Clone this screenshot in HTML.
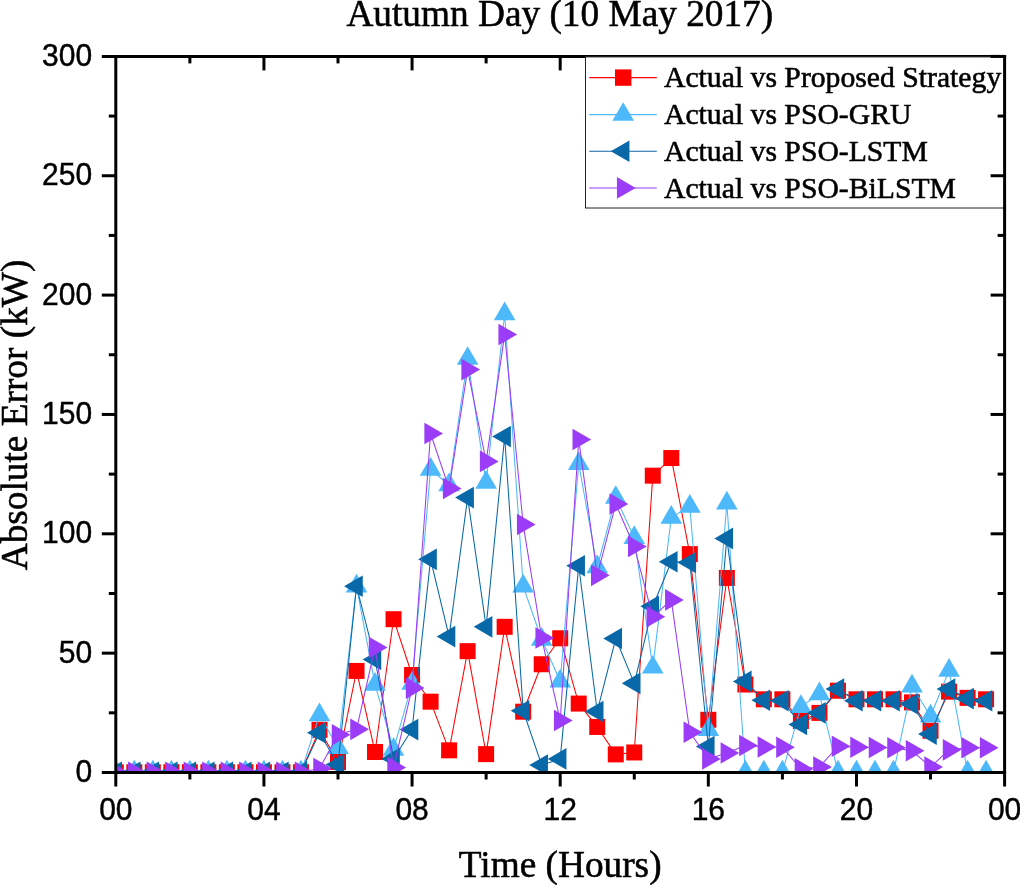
<!DOCTYPE html>
<html lang="en"><head><meta charset="utf-8"><title>Autumn Day (10 May 2017)</title>
<style>html,body{margin:0;padding:0;background:#fff;overflow:hidden;}svg{display:block}.se{font-family:"Liberation Serif","Times New Roman",serif;fill:#000;stroke:#000;stroke-width:0.55px}.sa{font-family:"Liberation Sans",Arial,sans-serif;fill:#000;stroke:#000;stroke-width:0.45px}</style></head><body>
<svg width="1020" height="885" viewBox="0 0 1020 885">
<rect width="1020" height="885" fill="#fff"/>
<defs><clipPath id="pc"><rect x="115.8" y="56.4" width="888.8" height="716.1"/></clipPath></defs>
<g clip-path="url(#pc)">
<polyline points="115.8,772.25 134.32,772.25 152.83,772.25 171.35,772.25 189.87,772.25 208.38,772.25 226.9,772.25 245.42,772.25 263.93,772.25 282.45,772.25 300.97,772.25 319.48,729.81 338,762 356.52,670.93 375.03,751.99 393.55,619.2 412.07,674.98 430.58,701.68 449.1,750.32 467.62,651.14 486.13,754.13 504.65,626.83 523.17,711.7 541.68,664.25 560.2,638.27 578.72,703.59 597.23,726.95 615.75,754.37 634.27,752.46 652.78,475.68 671.3,458.04 689.82,554.11 708.33,719.8 726.85,577.95 745.37,684.52 763.88,699.3 782.4,699.3 800.92,720.99 819.43,712.89 837.95,690.72 856.47,699.3 874.98,699.3 893.5,699.3 912.02,702.4 930.53,730.77 949.05,691.67 967.57,697.87 986.08,699.3" fill="none" stroke="#ff0000" stroke-width="1.05" stroke-linejoin="round"/>
<rect x="107.8" y="764.25" width="16" height="16" fill="#ff0000"/>
<rect x="126.32" y="764.25" width="16" height="16" fill="#ff0000"/>
<rect x="144.83" y="764.25" width="16" height="16" fill="#ff0000"/>
<rect x="163.35" y="764.25" width="16" height="16" fill="#ff0000"/>
<rect x="181.87" y="764.25" width="16" height="16" fill="#ff0000"/>
<rect x="200.38" y="764.25" width="16" height="16" fill="#ff0000"/>
<rect x="218.9" y="764.25" width="16" height="16" fill="#ff0000"/>
<rect x="237.42" y="764.25" width="16" height="16" fill="#ff0000"/>
<rect x="255.93" y="764.25" width="16" height="16" fill="#ff0000"/>
<rect x="274.45" y="764.25" width="16" height="16" fill="#ff0000"/>
<rect x="292.97" y="764.25" width="16" height="16" fill="#ff0000"/>
<rect x="311.48" y="721.81" width="16" height="16" fill="#ff0000"/>
<rect x="330" y="754" width="16" height="16" fill="#ff0000"/>
<rect x="348.52" y="662.93" width="16" height="16" fill="#ff0000"/>
<rect x="367.03" y="743.99" width="16" height="16" fill="#ff0000"/>
<rect x="385.55" y="611.2" width="16" height="16" fill="#ff0000"/>
<rect x="404.07" y="666.98" width="16" height="16" fill="#ff0000"/>
<rect x="422.58" y="693.68" width="16" height="16" fill="#ff0000"/>
<rect x="441.1" y="742.32" width="16" height="16" fill="#ff0000"/>
<rect x="459.62" y="643.14" width="16" height="16" fill="#ff0000"/>
<rect x="478.13" y="746.13" width="16" height="16" fill="#ff0000"/>
<rect x="496.65" y="618.83" width="16" height="16" fill="#ff0000"/>
<rect x="515.17" y="703.7" width="16" height="16" fill="#ff0000"/>
<rect x="533.68" y="656.25" width="16" height="16" fill="#ff0000"/>
<rect x="552.2" y="630.27" width="16" height="16" fill="#ff0000"/>
<rect x="570.72" y="695.59" width="16" height="16" fill="#ff0000"/>
<rect x="589.23" y="718.95" width="16" height="16" fill="#ff0000"/>
<rect x="607.75" y="746.37" width="16" height="16" fill="#ff0000"/>
<rect x="626.27" y="744.46" width="16" height="16" fill="#ff0000"/>
<rect x="644.78" y="467.68" width="16" height="16" fill="#ff0000"/>
<rect x="663.3" y="450.04" width="16" height="16" fill="#ff0000"/>
<rect x="681.82" y="546.11" width="16" height="16" fill="#ff0000"/>
<rect x="700.33" y="711.8" width="16" height="16" fill="#ff0000"/>
<rect x="718.85" y="569.95" width="16" height="16" fill="#ff0000"/>
<rect x="737.37" y="676.52" width="16" height="16" fill="#ff0000"/>
<rect x="755.88" y="691.3" width="16" height="16" fill="#ff0000"/>
<rect x="774.4" y="691.3" width="16" height="16" fill="#ff0000"/>
<rect x="792.92" y="712.99" width="16" height="16" fill="#ff0000"/>
<rect x="811.43" y="704.89" width="16" height="16" fill="#ff0000"/>
<rect x="829.95" y="682.72" width="16" height="16" fill="#ff0000"/>
<rect x="848.47" y="691.3" width="16" height="16" fill="#ff0000"/>
<rect x="866.98" y="691.3" width="16" height="16" fill="#ff0000"/>
<rect x="885.5" y="691.3" width="16" height="16" fill="#ff0000"/>
<rect x="904.02" y="694.4" width="16" height="16" fill="#ff0000"/>
<rect x="922.53" y="722.77" width="16" height="16" fill="#ff0000"/>
<rect x="941.05" y="683.67" width="16" height="16" fill="#ff0000"/>
<rect x="959.57" y="689.87" width="16" height="16" fill="#ff0000"/>
<rect x="978.08" y="691.3" width="16" height="16" fill="#ff0000"/>
<polyline points="115.8,772.25 134.32,772.25 152.83,772.25 171.35,772.25 189.87,772.25 208.38,772.25 226.9,772.25 245.42,772.25 263.93,772.25 282.45,772.25 300.97,772.25 319.48,715.03 338,747.69 356.52,586.3 375.03,684.52 393.55,749.6 412.07,683.57 430.58,469.48 449.1,484.98 467.62,358.63 486.13,482.59 504.65,314.05 523.17,586.3 541.68,639.46 560.2,681.18 578.72,463.76 597.23,566.99 615.75,497.61 634.27,537.66 652.78,667.35 671.3,517.4 689.82,506.43 708.33,729.81 726.85,503.33 745.37,772.25 763.88,772.25 782.4,772.25 800.92,706.69 819.43,694.05 837.95,772.25 856.47,772.25 874.98,772.25 893.5,772.25 912.02,686.19 930.53,716.23 949.05,670.45 967.57,772.25 986.08,772.25" fill="none" stroke="#4db8fa" stroke-width="1.05" stroke-linejoin="round"/>
<polygon points="115.8,759.78 105,778.49 126.6,778.49" fill="#4db8fa"/>
<polygon points="134.32,759.78 123.52,778.49 145.12,778.49" fill="#4db8fa"/>
<polygon points="152.83,759.78 142.03,778.49 163.63,778.49" fill="#4db8fa"/>
<polygon points="171.35,759.78 160.55,778.49 182.15,778.49" fill="#4db8fa"/>
<polygon points="189.87,759.78 179.07,778.49 200.67,778.49" fill="#4db8fa"/>
<polygon points="208.38,759.78 197.58,778.49 219.18,778.49" fill="#4db8fa"/>
<polygon points="226.9,759.78 216.1,778.49 237.7,778.49" fill="#4db8fa"/>
<polygon points="245.42,759.78 234.62,778.49 256.22,778.49" fill="#4db8fa"/>
<polygon points="263.93,759.78 253.13,778.49 274.73,778.49" fill="#4db8fa"/>
<polygon points="282.45,759.78 271.65,778.49 293.25,778.49" fill="#4db8fa"/>
<polygon points="300.97,759.78 290.17,778.49 311.77,778.49" fill="#4db8fa"/>
<polygon points="319.48,702.56 308.68,721.27 330.28,721.27" fill="#4db8fa"/>
<polygon points="338,735.22 327.2,753.93 348.8,753.93" fill="#4db8fa"/>
<polygon points="356.52,573.83 345.72,592.53 367.32,592.53" fill="#4db8fa"/>
<polygon points="375.03,672.05 364.23,690.75 385.83,690.75" fill="#4db8fa"/>
<polygon points="393.55,737.13 382.75,755.84 404.35,755.84" fill="#4db8fa"/>
<polygon points="412.07,671.09 401.27,689.8 422.87,689.8" fill="#4db8fa"/>
<polygon points="430.58,457.01 419.78,475.72 441.38,475.72" fill="#4db8fa"/>
<polygon points="449.1,472.51 438.3,491.21 459.9,491.21" fill="#4db8fa"/>
<polygon points="467.62,346.16 456.82,364.86 478.42,364.86" fill="#4db8fa"/>
<polygon points="486.13,470.12 475.33,488.83 496.93,488.83" fill="#4db8fa"/>
<polygon points="504.65,301.57 493.85,320.28 515.45,320.28" fill="#4db8fa"/>
<polygon points="523.17,573.83 512.37,592.53 533.97,592.53" fill="#4db8fa"/>
<polygon points="541.68,626.99 530.88,645.7 552.48,645.7" fill="#4db8fa"/>
<polygon points="560.2,668.71 549.4,687.42 571,687.42" fill="#4db8fa"/>
<polygon points="578.72,451.29 567.92,470 589.52,470" fill="#4db8fa"/>
<polygon points="597.23,554.52 586.43,573.22 608.03,573.22" fill="#4db8fa"/>
<polygon points="615.75,485.14 604.95,503.85 626.55,503.85" fill="#4db8fa"/>
<polygon points="634.27,525.19 623.47,543.9 645.07,543.9" fill="#4db8fa"/>
<polygon points="652.78,654.88 641.98,673.59 663.58,673.59" fill="#4db8fa"/>
<polygon points="671.3,504.93 660.5,523.64 682.1,523.64" fill="#4db8fa"/>
<polygon points="689.82,493.96 679.02,512.67 700.62,512.67" fill="#4db8fa"/>
<polygon points="708.33,717.34 697.53,736.05 719.13,736.05" fill="#4db8fa"/>
<polygon points="726.85,490.86 716.05,509.57 737.65,509.57" fill="#4db8fa"/>
<polygon points="745.37,759.78 734.57,778.49 756.17,778.49" fill="#4db8fa"/>
<polygon points="763.88,759.78 753.08,778.49 774.68,778.49" fill="#4db8fa"/>
<polygon points="782.4,759.78 771.6,778.49 793.2,778.49" fill="#4db8fa"/>
<polygon points="800.92,694.22 790.12,712.93 811.72,712.93" fill="#4db8fa"/>
<polygon points="819.43,681.58 808.63,700.29 830.23,700.29" fill="#4db8fa"/>
<polygon points="837.95,759.78 827.15,778.49 848.75,778.49" fill="#4db8fa"/>
<polygon points="856.47,759.78 845.67,778.49 867.27,778.49" fill="#4db8fa"/>
<polygon points="874.98,759.78 864.18,778.49 885.78,778.49" fill="#4db8fa"/>
<polygon points="893.5,759.78 882.7,778.49 904.3,778.49" fill="#4db8fa"/>
<polygon points="912.02,673.72 901.22,692.42 922.82,692.42" fill="#4db8fa"/>
<polygon points="930.53,703.76 919.73,722.46 941.33,722.46" fill="#4db8fa"/>
<polygon points="949.05,657.98 938.25,676.69 959.85,676.69" fill="#4db8fa"/>
<polygon points="967.57,759.78 956.77,778.49 978.37,778.49" fill="#4db8fa"/>
<polygon points="986.08,759.78 975.28,778.49 996.88,778.49" fill="#4db8fa"/>
<polyline points="115.8,772.25 134.32,772.25 152.83,772.25 171.35,772.25 189.87,772.25 208.38,772.25 226.9,772.25 245.42,772.25 263.93,772.25 282.45,772.25 300.97,772.25 319.48,732.68 338,764.62 356.52,586.3 375.03,659.49 393.55,758.66 412.07,729.58 430.58,559.36 449.1,636.6 467.62,497.61 486.13,626.83 504.65,436.58 523.17,710.74 541.68,765.1 560.2,758.9 578.72,565.8 597.23,711.46 615.75,638.51 634.27,683.33 652.78,606.32 671.3,561.74 689.82,562.46 708.33,746.5 726.85,538.38 745.37,681.42 763.88,700.25 782.4,700.73 800.92,724.57 819.43,712.89 837.95,689.05 856.47,700.73 874.98,700.73 893.5,700.73 912.02,704.07 930.53,734.11 949.05,689.05 967.57,698.58 986.08,700.73" fill="none" stroke="#0868a8" stroke-width="1.05" stroke-linejoin="round"/>
<polygon points="103.33,772.25 122.04,761.45 122.04,783.05" fill="#0868a8"/>
<polygon points="121.85,772.25 140.55,761.45 140.55,783.05" fill="#0868a8"/>
<polygon points="140.36,772.25 159.07,761.45 159.07,783.05" fill="#0868a8"/>
<polygon points="158.88,772.25 177.59,761.45 177.59,783.05" fill="#0868a8"/>
<polygon points="177.4,772.25 196.1,761.45 196.1,783.05" fill="#0868a8"/>
<polygon points="195.91,772.25 214.62,761.45 214.62,783.05" fill="#0868a8"/>
<polygon points="214.43,772.25 233.14,761.45 233.14,783.05" fill="#0868a8"/>
<polygon points="232.95,772.25 251.65,761.45 251.65,783.05" fill="#0868a8"/>
<polygon points="251.46,772.25 270.17,761.45 270.17,783.05" fill="#0868a8"/>
<polygon points="269.98,772.25 288.69,761.45 288.69,783.05" fill="#0868a8"/>
<polygon points="288.5,772.25 307.2,761.45 307.2,783.05" fill="#0868a8"/>
<polygon points="307.01,732.68 325.72,721.88 325.72,743.48" fill="#0868a8"/>
<polygon points="325.53,764.62 344.24,753.82 344.24,775.42" fill="#0868a8"/>
<polygon points="344.05,586.3 362.75,575.5 362.75,597.1" fill="#0868a8"/>
<polygon points="362.56,659.49 381.27,648.69 381.27,670.29" fill="#0868a8"/>
<polygon points="381.08,758.66 399.79,747.86 399.79,769.46" fill="#0868a8"/>
<polygon points="399.6,729.58 418.3,718.78 418.3,740.38" fill="#0868a8"/>
<polygon points="418.11,559.36 436.82,548.56 436.82,570.16" fill="#0868a8"/>
<polygon points="436.63,636.6 455.34,625.8 455.34,647.4" fill="#0868a8"/>
<polygon points="455.15,497.61 473.85,486.81 473.85,508.41" fill="#0868a8"/>
<polygon points="473.66,626.83 492.37,616.03 492.37,637.63" fill="#0868a8"/>
<polygon points="492.18,436.58 510.89,425.78 510.89,447.38" fill="#0868a8"/>
<polygon points="510.7,710.74 529.4,699.94 529.4,721.54" fill="#0868a8"/>
<polygon points="529.21,765.1 547.92,754.3 547.92,775.9" fill="#0868a8"/>
<polygon points="547.73,758.9 566.44,748.1 566.44,769.7" fill="#0868a8"/>
<polygon points="566.25,565.8 584.95,555 584.95,576.6" fill="#0868a8"/>
<polygon points="584.76,711.46 603.47,700.66 603.47,722.26" fill="#0868a8"/>
<polygon points="603.28,638.51 621.99,627.71 621.99,649.31" fill="#0868a8"/>
<polygon points="621.8,683.33 640.5,672.53 640.5,694.13" fill="#0868a8"/>
<polygon points="640.31,606.32 659.02,595.52 659.02,617.12" fill="#0868a8"/>
<polygon points="658.83,561.74 677.54,550.94 677.54,572.54" fill="#0868a8"/>
<polygon points="677.35,562.46 696.05,551.66 696.05,573.26" fill="#0868a8"/>
<polygon points="695.86,746.5 714.57,735.7 714.57,757.3" fill="#0868a8"/>
<polygon points="714.38,538.38 733.09,527.58 733.09,549.18" fill="#0868a8"/>
<polygon points="732.9,681.42 751.6,670.62 751.6,692.22" fill="#0868a8"/>
<polygon points="751.41,700.25 770.12,689.45 770.12,711.05" fill="#0868a8"/>
<polygon points="769.93,700.73 788.64,689.93 788.64,711.53" fill="#0868a8"/>
<polygon points="788.45,724.57 807.15,713.77 807.15,735.37" fill="#0868a8"/>
<polygon points="806.96,712.89 825.67,702.09 825.67,723.69" fill="#0868a8"/>
<polygon points="825.48,689.05 844.19,678.25 844.19,699.85" fill="#0868a8"/>
<polygon points="844,700.73 862.7,689.93 862.7,711.53" fill="#0868a8"/>
<polygon points="862.51,700.73 881.22,689.93 881.22,711.53" fill="#0868a8"/>
<polygon points="881.03,700.73 899.74,689.93 899.74,711.53" fill="#0868a8"/>
<polygon points="899.55,704.07 918.25,693.27 918.25,714.87" fill="#0868a8"/>
<polygon points="918.06,734.11 936.77,723.31 936.77,744.91" fill="#0868a8"/>
<polygon points="936.58,689.05 955.29,678.25 955.29,699.85" fill="#0868a8"/>
<polygon points="955.1,698.58 973.8,687.78 973.8,709.38" fill="#0868a8"/>
<polygon points="973.61,700.73 992.32,689.93 992.32,711.53" fill="#0868a8"/>
<polyline points="115.8,772.25 134.32,772.25 152.83,772.25 171.35,772.25 189.87,772.25 208.38,772.25 226.9,772.25 245.42,772.25 263.93,772.25 282.45,772.25 300.97,772.25 319.48,768.44 338,734.82 356.52,729.34 375.03,647.57 393.55,767.48 412.07,688.09 430.58,433.48 449.1,488.55 467.62,369.59 486.13,461.38 504.65,334.55 523.17,524.55 541.68,638.03 560.2,720.52 578.72,439.44 597.23,575.33 615.75,504.05 634.27,546.49 652.78,616.81 671.3,599.89 689.82,732.2 708.33,758.9 726.85,752.94 745.37,745.55 763.88,746.98 782.4,747.22 800.92,768.91 819.43,767.01 837.95,746.26 856.47,747.22 874.98,747.46 893.5,747.69 912.02,750.79 930.53,767.01 949.05,749.84 967.57,747.69 986.08,747.69" fill="none" stroke="#9a3cf8" stroke-width="1.05" stroke-linejoin="round"/>
<polygon points="128.27,772.25 109.56,761.45 109.56,783.05" fill="#9a3cf8"/>
<polygon points="146.79,772.25 128.08,761.45 128.08,783.05" fill="#9a3cf8"/>
<polygon points="165.3,772.25 146.6,761.45 146.6,783.05" fill="#9a3cf8"/>
<polygon points="183.82,772.25 165.11,761.45 165.11,783.05" fill="#9a3cf8"/>
<polygon points="202.34,772.25 183.63,761.45 183.63,783.05" fill="#9a3cf8"/>
<polygon points="220.85,772.25 202.15,761.45 202.15,783.05" fill="#9a3cf8"/>
<polygon points="239.37,772.25 220.66,761.45 220.66,783.05" fill="#9a3cf8"/>
<polygon points="257.89,772.25 239.18,761.45 239.18,783.05" fill="#9a3cf8"/>
<polygon points="276.4,772.25 257.7,761.45 257.7,783.05" fill="#9a3cf8"/>
<polygon points="294.92,772.25 276.21,761.45 276.21,783.05" fill="#9a3cf8"/>
<polygon points="313.44,772.25 294.73,761.45 294.73,783.05" fill="#9a3cf8"/>
<polygon points="331.95,768.44 313.25,757.64 313.25,779.24" fill="#9a3cf8"/>
<polygon points="350.47,734.82 331.76,724.02 331.76,745.62" fill="#9a3cf8"/>
<polygon points="368.99,729.34 350.28,718.54 350.28,740.14" fill="#9a3cf8"/>
<polygon points="387.5,647.57 368.8,636.77 368.8,658.37" fill="#9a3cf8"/>
<polygon points="406.02,767.48 387.31,756.68 387.31,778.28" fill="#9a3cf8"/>
<polygon points="424.54,688.09 405.83,677.29 405.83,698.89" fill="#9a3cf8"/>
<polygon points="443.05,433.48 424.35,422.68 424.35,444.28" fill="#9a3cf8"/>
<polygon points="461.57,488.55 442.86,477.75 442.86,499.35" fill="#9a3cf8"/>
<polygon points="480.09,369.59 461.38,358.79 461.38,380.39" fill="#9a3cf8"/>
<polygon points="498.6,461.38 479.9,450.58 479.9,472.18" fill="#9a3cf8"/>
<polygon points="517.12,334.55 498.41,323.75 498.41,345.35" fill="#9a3cf8"/>
<polygon points="535.64,524.55 516.93,513.75 516.93,535.35" fill="#9a3cf8"/>
<polygon points="554.15,638.03 535.45,627.23 535.45,648.83" fill="#9a3cf8"/>
<polygon points="572.67,720.52 553.96,709.72 553.96,731.32" fill="#9a3cf8"/>
<polygon points="591.19,439.44 572.48,428.64 572.48,450.24" fill="#9a3cf8"/>
<polygon points="609.7,575.33 591,564.53 591,586.13" fill="#9a3cf8"/>
<polygon points="628.22,504.05 609.51,493.25 609.51,514.85" fill="#9a3cf8"/>
<polygon points="646.74,546.49 628.03,535.69 628.03,557.29" fill="#9a3cf8"/>
<polygon points="665.25,616.81 646.55,606.01 646.55,627.61" fill="#9a3cf8"/>
<polygon points="683.77,599.89 665.06,589.09 665.06,610.69" fill="#9a3cf8"/>
<polygon points="702.29,732.2 683.58,721.4 683.58,743" fill="#9a3cf8"/>
<polygon points="720.8,758.9 702.1,748.1 702.1,769.7" fill="#9a3cf8"/>
<polygon points="739.32,752.94 720.61,742.14 720.61,763.74" fill="#9a3cf8"/>
<polygon points="757.84,745.55 739.13,734.75 739.13,756.35" fill="#9a3cf8"/>
<polygon points="776.35,746.98 757.65,736.18 757.65,757.78" fill="#9a3cf8"/>
<polygon points="794.87,747.22 776.16,736.42 776.16,758.02" fill="#9a3cf8"/>
<polygon points="813.39,768.91 794.68,758.11 794.68,779.71" fill="#9a3cf8"/>
<polygon points="831.9,767.01 813.2,756.21 813.2,777.81" fill="#9a3cf8"/>
<polygon points="850.42,746.26 831.71,735.46 831.71,757.06" fill="#9a3cf8"/>
<polygon points="868.94,747.22 850.23,736.42 850.23,758.02" fill="#9a3cf8"/>
<polygon points="887.45,747.46 868.75,736.66 868.75,758.26" fill="#9a3cf8"/>
<polygon points="905.97,747.69 887.26,736.89 887.26,758.49" fill="#9a3cf8"/>
<polygon points="924.49,750.79 905.78,739.99 905.78,761.59" fill="#9a3cf8"/>
<polygon points="943,767.01 924.3,756.21 924.3,777.81" fill="#9a3cf8"/>
<polygon points="961.52,749.84 942.81,739.04 942.81,760.64" fill="#9a3cf8"/>
<polygon points="980.04,747.69 961.33,736.89 961.33,758.49" fill="#9a3cf8"/>
<polygon points="998.55,747.69 979.85,736.89 979.85,758.49" fill="#9a3cf8"/>
</g>
<g stroke="#000" stroke-width="3" fill="none" stroke-linecap="butt">
<line x1="101.8" y1="56.4" x2="1006.1" y2="56.4"/>
<line x1="101.8" y1="772.5" x2="1006.1" y2="772.5"/>
<line x1="115.8" y1="54.9" x2="115.8" y2="786.5"/>
<line x1="189.87" y1="772.5" x2="189.87" y2="779.5"/>
<line x1="189.87" y1="56.4" x2="189.87" y2="63.4"/>
<line x1="263.93" y1="772.5" x2="263.93" y2="786.5"/>
<line x1="263.93" y1="56.4" x2="263.93" y2="70.4"/>
<line x1="338" y1="772.5" x2="338" y2="779.5"/>
<line x1="338" y1="56.4" x2="338" y2="63.4"/>
<line x1="412.07" y1="772.5" x2="412.07" y2="786.5"/>
<line x1="412.07" y1="56.4" x2="412.07" y2="70.4"/>
<line x1="486.13" y1="772.5" x2="486.13" y2="779.5"/>
<line x1="486.13" y1="56.4" x2="486.13" y2="63.4"/>
<line x1="560.2" y1="772.5" x2="560.2" y2="786.5"/>
<line x1="560.2" y1="56.4" x2="560.2" y2="70.4"/>
<line x1="634.27" y1="772.5" x2="634.27" y2="779.5"/>
<line x1="634.27" y1="56.4" x2="634.27" y2="63.4"/>
<line x1="708.33" y1="772.5" x2="708.33" y2="786.5"/>
<line x1="708.33" y1="56.4" x2="708.33" y2="70.4"/>
<line x1="782.4" y1="772.5" x2="782.4" y2="779.5"/>
<line x1="782.4" y1="56.4" x2="782.4" y2="63.4"/>
<line x1="856.47" y1="772.5" x2="856.47" y2="786.5"/>
<line x1="856.47" y1="56.4" x2="856.47" y2="70.4"/>
<line x1="930.53" y1="772.5" x2="930.53" y2="779.5"/>
<line x1="930.53" y1="56.4" x2="930.53" y2="63.4"/>
<line x1="108.8" y1="712.83" x2="115.8" y2="712.83"/>
<line x1="101.8" y1="653.15" x2="115.8" y2="653.15"/>
<line x1="108.8" y1="593.48" x2="115.8" y2="593.48"/>
<line x1="101.8" y1="533.8" x2="115.8" y2="533.8"/>
<line x1="108.8" y1="474.12" x2="115.8" y2="474.12"/>
<line x1="101.8" y1="414.45" x2="115.8" y2="414.45"/>
<line x1="108.8" y1="354.77" x2="115.8" y2="354.77"/>
<line x1="101.8" y1="295.1" x2="115.8" y2="295.1"/>
<line x1="108.8" y1="235.42" x2="115.8" y2="235.42"/>
<line x1="101.8" y1="175.75" x2="115.8" y2="175.75"/>
<line x1="108.8" y1="116.08" x2="115.8" y2="116.08"/>
</g>
<rect x="585.5" y="56.9" width="419.1" height="151.1" fill="#fff" stroke="#222" stroke-width="1"/>
<line x1="589.2" y1="77.6" x2="656.8" y2="77.6" stroke="#ff0000" stroke-width="1.05"/>
<rect x="615" y="69.4" width="16.4" height="16.4" fill="#ff0000"/>
<text class="se" x="664" y="87" font-size="29.7">Actual vs Proposed Strategy</text>
<line x1="589.2" y1="114.6" x2="656.8" y2="114.6" stroke="#4db8fa" stroke-width="1.05"/>
<polygon points="623.2,102.13 612.4,120.84 634,120.84" fill="#4db8fa"/>
<text class="se" x="664" y="124" font-size="29.7">Actual vs PSO-GRU</text>
<line x1="589.2" y1="151.3" x2="656.8" y2="151.3" stroke="#0868a8" stroke-width="1.05"/>
<polygon points="610.73,151.3 629.44,140.5 629.44,162.1" fill="#0868a8"/>
<text class="se" x="664" y="160.85" font-size="29.7">Actual vs PSO-LSTM</text>
<line x1="589.2" y1="187.9" x2="656.8" y2="187.9" stroke="#9a3cf8" stroke-width="1.05"/>
<polygon points="635.67,187.9 616.96,177.1 616.96,198.7" fill="#9a3cf8"/>
<text class="se" x="664" y="197.5" font-size="29.7">Actual vs PSO-BiLSTM</text>
<g stroke="#000" stroke-width="3" fill="none">
<line x1="1004.6" y1="54.9" x2="1004.6" y2="786.5"/>
<line x1="997.6" y1="712.83" x2="1004.6" y2="712.83"/>
<line x1="990.6" y1="653.15" x2="1004.6" y2="653.15"/>
<line x1="997.6" y1="593.48" x2="1004.6" y2="593.48"/>
<line x1="990.6" y1="533.8" x2="1004.6" y2="533.8"/>
<line x1="997.6" y1="474.12" x2="1004.6" y2="474.12"/>
<line x1="990.6" y1="414.45" x2="1004.6" y2="414.45"/>
<line x1="997.6" y1="354.77" x2="1004.6" y2="354.77"/>
<line x1="990.6" y1="295.1" x2="1004.6" y2="295.1"/>
<line x1="997.6" y1="235.42" x2="1004.6" y2="235.42"/>
<line x1="990.6" y1="175.75" x2="1004.6" y2="175.75"/>
<line x1="997.6" y1="116.08" x2="1004.6" y2="116.08"/>
<line x1="990.6" y1="56.4" x2="1004.6" y2="56.4"/>
</g>
<text class="se" x="559.8" y="26.3" font-size="37.3" text-anchor="middle">Autumn Day (10 May 2017)</text>
<text class="se" x="560.2" y="877" font-size="37.3" text-anchor="middle">Time (Hours)</text>
<text class="se" font-size="37.3" text-anchor="middle" transform="translate(26.8,414.9) rotate(-90)">Absolute Error (kW)</text>
<text class="sa" font-size="30.6" text-anchor="end" transform="translate(92.1,782) scale(0.98,1)">0</text>
<text class="sa" font-size="30.6" text-anchor="end" transform="translate(92.1,662.65) scale(0.98,1)">50</text>
<text class="sa" font-size="30.6" text-anchor="end" transform="translate(92.1,543.3) scale(0.98,1)">100</text>
<text class="sa" font-size="30.6" text-anchor="end" transform="translate(92.1,423.95) scale(0.98,1)">150</text>
<text class="sa" font-size="30.6" text-anchor="end" transform="translate(92.1,304.6) scale(0.98,1)">200</text>
<text class="sa" font-size="30.6" text-anchor="end" transform="translate(92.1,185.25) scale(0.98,1)">250</text>
<text class="sa" font-size="30.6" text-anchor="end" transform="translate(92.1,65.9) scale(0.98,1)">300</text>
<text class="sa" font-size="30.6" text-anchor="middle" transform="translate(115.8,819.8) scale(0.98,1)">00</text>
<text class="sa" font-size="30.6" text-anchor="middle" transform="translate(263.93,819.8) scale(0.98,1)">04</text>
<text class="sa" font-size="30.6" text-anchor="middle" transform="translate(412.07,819.8) scale(0.98,1)">08</text>
<text class="sa" font-size="30.6" text-anchor="middle" transform="translate(560.2,819.8) scale(0.98,1)">12</text>
<text class="sa" font-size="30.6" text-anchor="middle" transform="translate(708.33,819.8) scale(0.98,1)">16</text>
<text class="sa" font-size="30.6" text-anchor="middle" transform="translate(856.47,819.8) scale(0.98,1)">20</text>
<text class="sa" font-size="30.6" text-anchor="middle" transform="translate(1004.6,819.8) scale(0.98,1)">00</text>
</svg></body></html>
